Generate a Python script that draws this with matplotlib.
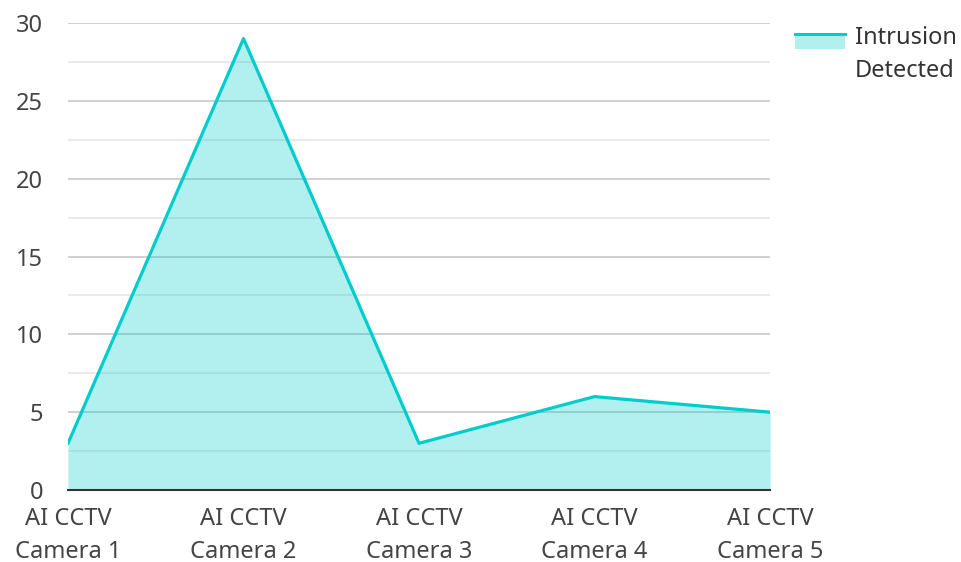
import matplotlib.pyplot as plt
from matplotlib.lines import Line2D
from matplotlib.patches import Patch, Rectangle
from matplotlib.legend_handler import HandlerBase

# Data
cameras = ['AI CCTV\nCamera 1', 'AI CCTV\nCamera 2', 'AI CCTV\nCamera 3',
           'AI CCTV\nCamera 4', 'AI CCTV\nCamera 5']
intrusions = [3, 29, 3, 6, 5]
series_name = 'Intrusion\nDetected'

line_color = '#00CCCC'
fill_color = '#00CCCC'


class AreaHandler(HandlerBase):
    # line on top of a light filled box, lifted to sit next to the first text line
    def create_artists(self, legend, orig_handle, xdescent, ydescent,
                       width, height, fontsize, trans):
        yoff = 0.60 * fontsize
        rect = Rectangle((-xdescent, -ydescent + yoff), width, height,
                         facecolor=fill_color, alpha=0.3, linewidth=0, transform=trans)
        line = Line2D([-xdescent, -xdescent + width], [-ydescent + yoff + height] * 2,
                      color=line_color, linewidth=2.2, transform=trans)
        return [rect, line]


plt.rcParams['font.family'] = ['Noto Sans', 'DejaVu Sans']

fig = plt.figure(figsize=(9.62, 5.62), dpi=100)
ax = fig.add_axes([68 / 962, 1 - 490 / 562, (770 - 68) / 962, (490 - 23) / 562])

x = list(range(len(cameras)))
ax.fill_between(x, intrusions, 0, color=fill_color, alpha=0.3, linewidth=0, zorder=2)
ax.plot(x, intrusions, color=line_color, linewidth=2.3, zorder=3)

ax.set_xlim(0, len(cameras) - 1)
ax.set_ylim(0, 30)
ax.set_yticks(range(0, 31, 5))
ax.set_yticks([2.5 + 5 * i for i in range(6)], minor=True)
ax.set_xticks(x)
ax.set_xticklabels(cameras, linespacing=1.5)

ax.grid(which='major', axis='y', color='#c8c8c8', linewidth=1.2, zorder=1)
ax.grid(which='minor', axis='y', color='#e6e6e6', linewidth=1.2, zorder=1)
ax.set_axisbelow(True)

for side in ['top', 'right', 'left']:
    ax.spines[side].set_visible(False)
ax.spines['bottom'].set_color('#333333')
ax.spines['bottom'].set_linewidth(1.5)
ax.spines['bottom'].set_zorder(4)

ax.tick_params(axis='both', which='both', length=0, labelsize=17, labelcolor='#444444')
ax.tick_params(axis='y', pad=18)
ax.tick_params(axis='x', pad=12)

handle = Patch(facecolor=fill_color)
leg = fig.legend([handle], [series_name], loc='upper left',
                 bbox_to_anchor=(795 / 962, 1 - 26 / 562),
                 frameon=False, fontsize=17, labelcolor='#333333',
                 handlelength=2.1, handleheight=0.6, handletextpad=0.45,
                 borderpad=0, borderaxespad=0,
                 handler_map={Patch: AreaHandler()})
for t in leg.get_texts():
    t.set_linespacing(1.5)

fig.savefig('out.png', dpi=100)
